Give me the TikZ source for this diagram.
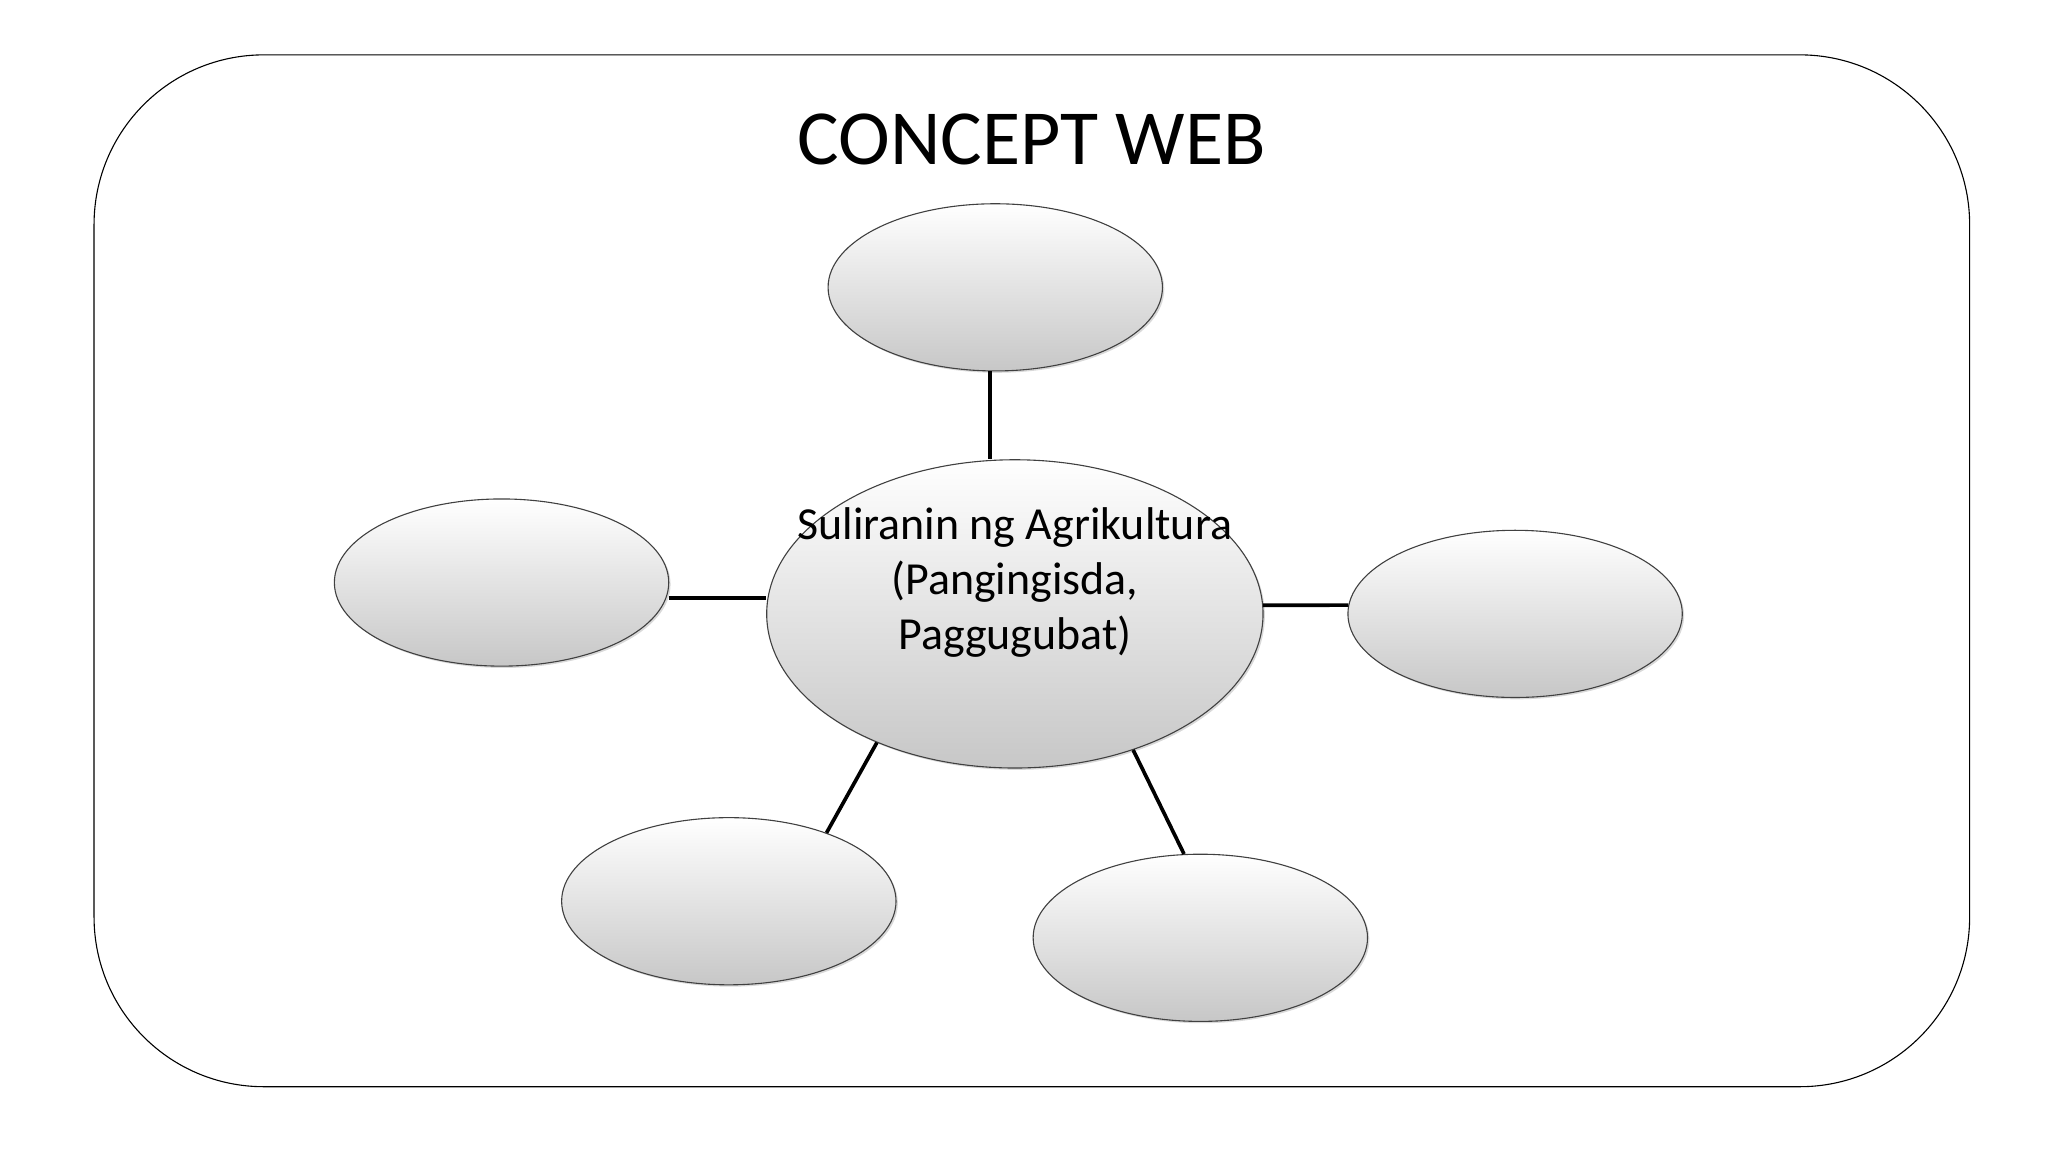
\documentclass[tikz,border=0pt]{standalone}
\usepackage{fontspec}
\setmainfont{Carlito}
\usetikzlibrary{shapes.geometric,shadows}
\begin{document}
\begin{tikzpicture}[x=0.05cm,y=-0.05cm,
  bub/.style={ellipse,draw=black!75,line width=1.2pt,top color=white,bottom color=black!22,
    drop shadow={shadow xshift=2pt,shadow yshift=-2pt,opacity=0.3},inner sep=0pt},
  small/.style={bub,minimum width=256*0.05cm,minimum height=128*0.05cm},
  link/.style={line width=4pt}]
\useasboundingbox (0,0) rectangle (1568,882);
\draw[line width=1.2pt,rounded corners=130*0.05cm] (72,42) rectangle (1508,832);
\node (title) at (790,107) {\fontsize{85}{95}\selectfont CONCEPT WEB};
\node[small] (t) at (762,220) {};
\node[small] (l) at (384,446) {};
\node[small] (r) at (1160,470) {};
\node[small] (bl) at (558,690) {};
\node[small] (br) at (919,718) {};
\node[bub,minimum width=380*0.05cm,minimum height=236*0.05cm] (c) at (777,470) {};
\node[align=center,font=\fontsize{50}{60}\selectfont] (ct) at (777,446) {Suliranin ng Agrikultura\\(Pangingisda,\\Paggugubat)};
\draw[link] (c.north -| 758,0) -- (758,0 |- t.south);
\draw[link] (l.east |- 0,458) -- (c.west |- 0,458);
\draw[link] (c.2.7) -- (r.177);
\draw[link] (c.223) -- (bl.35);
\draw[link] (c.311) -- (br.101);
\end{tikzpicture}
\end{document}
